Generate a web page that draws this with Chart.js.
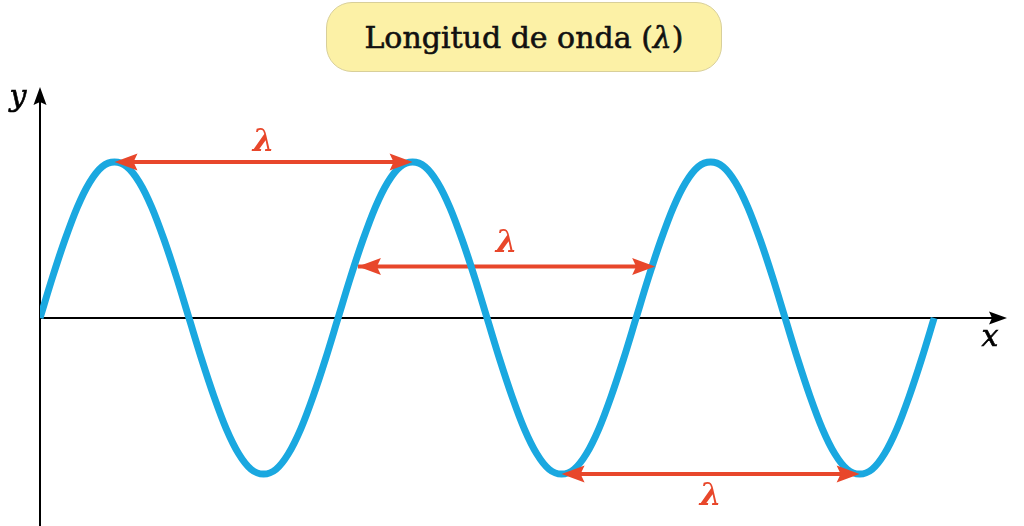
<!DOCTYPE html>
<html>
<head>
<meta charset="utf-8">
<script src="https://cdn.jsdelivr.net/npm/chart.js@4/dist/chart.umd.min.js"></script>
<style>
  body { margin: 0; background: #fff; }
  #wrap { position: relative; width: 1024px; height: 526px; }
  .title {
    position: absolute; left: 326px; top: 2px; width: 394px; height: 68px;
    border-radius: 26px; background: #fcf1a6; border: 1px solid #d8cf9a;
    font: 30px "DejaVu Serif", serif; color: #111;
    -webkit-text-stroke: 0.6px #111;
    display: flex; align-items: center; justify-content: center;
  }
</style>
</head>
<body>
<div id="wrap">
  <canvas id="chart" width="1024" height="526"></canvas>
  <div class="title">Longitud de onda (<i>λ</i>)</div>
</div>
<script>
// phase along x, in degrees (one wavelength = 360)
const wavePhase = [0, 15, 30, 45, 60, 75, 90, 105, 120, 135, 150, 165,
  180, 195, 210, 225, 240, 255, 270, 285, 300, 315, 330, 345,
  360, 375, 390, 405, 420, 435, 450, 465, 480, 495, 510, 525,
  540, 555, 570, 585, 600, 615, 630, 645, 660, 675, 690, 705,
  720, 735, 750, 765, 780, 795, 810, 825, 840, 855, 870, 885,
  900, 915, 930, 945, 960, 975, 990, 1005, 1020, 1035, 1050, 1065, 1080];
const waveHeight = [0, 0.26, 0.5, 0.71, 0.87, 0.97, 1, 0.97, 0.87, 0.71, 0.5, 0.26,
  0, -0.26, -0.5, -0.71, -0.87, -0.97, -1, -0.97, -0.87, -0.71, -0.5, -0.26,
  0, 0.26, 0.5, 0.71, 0.87, 0.97, 1, 0.97, 0.87, 0.71, 0.5, 0.26,
  0, -0.26, -0.5, -0.71, -0.87, -0.97, -1, -0.97, -0.87, -0.71, -0.5, -0.26,
  0, 0.26, 0.5, 0.71, 0.87, 0.97, 1, 0.97, 0.87, 0.71, 0.5, 0.26,
  0, -0.26, -0.5, -0.71, -0.87, -0.97, -1, -0.97, -0.87, -0.71, -0.5, -0.26, 0];

// the three wavelength arrows
const arrowFrom = [90, 384, 630];
const arrowTo = [450, 743, 990];
const arrowLevel = [1, 0.33, -1];
const arrowLabels = ["λ", "λ", "λ"];

const axisLabels = ["x", "y"];

const BLUE = "#1aa8e0";
const RED = "#e8472b";

const arrowSets = arrowFrom.map((from, i) => ({
  data: [{ x: from, y: arrowLevel[i] }, { x: arrowTo[i], y: arrowLevel[i] }],
  borderColor: RED,
  borderWidth: 4,
  pointRadius: 0,
  borderCapStyle: "butt",
  isArrow: true,
  label: arrowLabels[i],
  order: 2
}));

// axes with arrow tips, arrow heads and the lambda labels
const waveDecor = {
  id: "waveDecor",
  beforeDatasetsDraw(chart) {
    const { ctx, chartArea, scales: { x, y } } = chart;
    const x0 = x.getPixelForValue(0), y0 = y.getPixelForValue(0);
    ctx.save();
    ctx.strokeStyle = "#000";
    ctx.fillStyle = "#000";
    ctx.lineWidth = 2;
    ctx.beginPath();
    ctx.moveTo(x0, y0);
    ctx.lineTo(chartArea.right - 10, y0);
    ctx.moveTo(x0, chartArea.bottom);
    ctx.lineTo(x0, chartArea.top + 10);
    ctx.stroke();
    head(ctx, chartArea.right, y0, 1, 0, 18, 6.5, 3);
    head(ctx, x0, chartArea.top, 0, -1, 18, 6.5, 3);
    ctx.font = "italic 30px 'DejaVu Serif', serif";
    ctx.lineWidth = 0.6;
    ctx.textAlign = "center";
    ctx.textBaseline = "middle";
    ctx.fillText(axisLabels[0], chartArea.right - 17, y0 + 20);
    ctx.strokeText(axisLabels[0], chartArea.right - 17, y0 + 20);
    ctx.fillText(axisLabels[1], x0 - 22, chartArea.top + 11);
    ctx.strokeText(axisLabels[1], x0 - 22, chartArea.top + 11);
    ctx.restore();
  },
  afterDatasetsDraw(chart) {
    const { ctx } = chart;
    const offsets = [-19, -23, 23];
    let k = 0;
    chart.data.datasets.forEach((ds, i) => {
      if (!ds.isArrow) return;
      const pts = chart.getDatasetMeta(i).data;
      const a = pts[0], b = pts[1];
      ctx.save();
      ctx.fillStyle = RED;
      head(ctx, a.x, a.y, -1, 0, 23, 8.5, 4);
      head(ctx, b.x, b.y, 1, 0, 23, 8.5, 4);
      ctx.font = "bold italic 31px 'DejaVu Serif', serif";
      ctx.textAlign = "center";
      ctx.textBaseline = "middle";
      ctx.fillText(ds.label, (a.x + b.x) / 2, a.y + offsets[k]);
      ctx.restore();
      k++;
    });
  }
};

function head(ctx, tx, ty, dx, dy, len, half, notch) {
  const bx = tx - dx * len, by = ty - dy * len;
  const nx = -dy, ny = dx;
  ctx.beginPath();
  ctx.moveTo(tx, ty);
  ctx.lineTo(bx + nx * half, by + ny * half);
  ctx.lineTo(bx + dx * notch, by + dy * notch);
  ctx.lineTo(bx - nx * half, by - ny * half);
  ctx.closePath();
  ctx.fill();
}

new Chart(document.getElementById("chart"), {
  type: "line",
  data: {
    datasets: [
      {
        data: wavePhase.map((p, i) => ({ x: p, y: waveHeight[i] })),
        borderColor: BLUE,
        borderWidth: 7,
        pointRadius: 0,
        cubicInterpolationMode: "monotone",
        borderCapStyle: "butt",
        order: 1
      },
      ...arrowSets
    ]
  },
  options: {
    responsive: false,
    animation: false,
    layout: { padding: { left: 40, right: 17, top: 87, bottom: 0 } },
    plugins: { legend: { display: false }, tooltip: { enabled: false } },
    scales: {
      x: { type: "linear", display: false, min: 0, max: 1168 },
      y: { type: "linear", display: false, min: -1.333, max: 1.481 }
    }
  },
  plugins: [waveDecor]
});
</script>
</body>
</html>
